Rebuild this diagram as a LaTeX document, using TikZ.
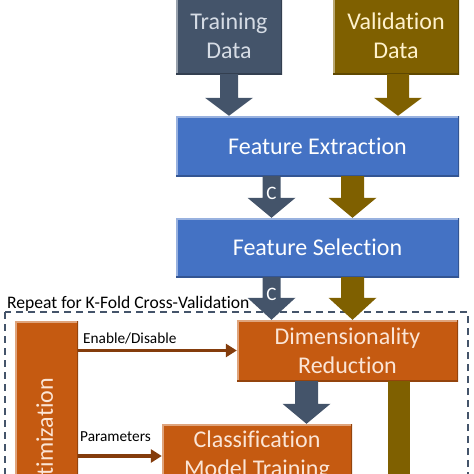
\documentclass[tikz,border=0pt]{standalone}
\usepackage{fontspec}
\setmainfont{Carlito}[RawFeature=-liga]
\usetikzlibrary{calc,arrows.meta}
\definecolor{tdcol}{HTML}{44546A}
\definecolor{tdtext}{HTML}{D6DCE5}
\definecolor{vdcol}{HTML}{7F6000}
\definecolor{vdtext}{HTML}{FFF2CC}
\definecolor{bluebox}{HTML}{4472C4}
\definecolor{orbox}{HTML}{C55A11}
\definecolor{ortext}{HTML}{FBE5D6}
\definecolor{brownarr}{HTML}{843C0C}
\newcommand{\bkarrow}[6]{%
  \fill[#1] ($(#2)+(-#4,0)$) -- ($(#2)+(#4,0)$) -- ($(#3)+(#4,#6)$) -- ($(#3)+(#5,#6)$) -- (#3) -- ($(#3)+(-#5,#6)$) -- ($(#3)+(-#4,#6)$) -- cycle;}
\tikzset{
  box/.style={rectangle, inner sep=0pt, align=center, font=\fontsize{24}{29}\selectfont},
  bevel/.style={path picture={
    \draw[line width=3pt, #1!55!white] (path picture bounding box.south west) -- (path picture bounding box.north west) -- (path picture bounding box.north east);
    \draw[line width=3pt, #1!75!black] (path picture bounding box.north east) -- (path picture bounding box.south east) -- (path picture bounding box.south west);
  }},
  lbl/.style={anchor=base west, inner sep=0pt, font=\fontsize{15.3}{15}\selectfont},
  ctrl/.style={draw=brownarr, line width=3.5pt, -{Triangle[length=11pt,width=13pt]}},
  clab/.style={inner sep=0pt, text=white, font=\fontsize{19}{19}\selectfont}
}
\begin{document}
\begin{tikzpicture}[x=1pt,y=1pt]
\useasboundingbox (0,0) rectangle (474,-474);
\clip (0,0) rectangle (474,-474);
% dashed loop region
\draw[tdcol, line width=1.5pt, dash pattern=on 7pt off 5pt] (5,-312) rectangle (468,-500);
\node[lbl, font=\fontsize{17.6}{17}\selectfont] (rep) at (7,-308) {Repeat for K-Fold Cross-Validation};
% boxes
\node[box, fill=tdcol, text=tdtext, bevel=tdcol, minimum width=106, minimum height=92] (trn) at (229,-28) {};
\node[box, text=tdtext] (trnt) at (229,-36) {Training\\Data};
\node[box, fill=vdcol, text=vdtext, bevel=vdcol, minimum width=126, minimum height=92] (val) at (396,-28) {};
\node[box, text=vdtext] (valt) at (396,-36) {Validation\\Data};
\node[box, fill=bluebox, text=white, bevel=bluebox, minimum width=283, minimum height=60] (fe) at (317.5,-146) {Feature Extraction};
\node[box, fill=bluebox, text=white, bevel=bluebox, minimum width=283, minimum height=59] (fs) at (317.5,-247.5) {Feature Selection};
\node[box, fill=orbox, text=ortext, bevel=orbox, minimum width=221, minimum height=61] (dr) at (347.5,-350.5) {Dimensionality\\Reduction};
\node[box, fill=orbox, text=ortext, bevel=orbox, minimum width=190, minimum height=64] (cmt) at (257,-456) {Classification\\Model Training};
\node[box, fill=orbox, text=ortext, bevel=orbox, rotate=90, minimum width=240, minimum height=63] (opt) at (46.5,-441) {Optimization};
% block arrows
\coordinate (t1) at (trn.south |- fe.north);
\bkarrow{tdcol}{trn.south}{t1}{9}{24}{18}
\coordinate (v0) at ($(val.south)+(2,0)$);
\coordinate (v1) at (v0 |- fe.north);
\bkarrow{vdcol}{v0}{v1}{11}{24}{18}
\coordinate (c0) at ($(fe.south)+(-46,0)$);
\coordinate (c1) at (c0 |- fs.north);
\bkarrow{tdcol}{c0}{c1}{9}{24}{20}
\node[clab] (cl1) at ($(c0)+(0,-17)$) {C};
\coordinate (g0) at ($(fe.south)+(35,0)$);
\coordinate (g1) at (g0 |- fs.north);
\bkarrow{vdcol}{g0}{g1}{11.5}{24}{20}
\coordinate (c2) at ($(fs.south)+(-46,0)$);
\coordinate (c3) at (c2 |- dr.north);
\bkarrow{tdcol}{c2}{c3}{9}{24}{22}
\node[clab] (cl2) at ($(c2)+(0,-17)$) {C};
\coordinate (g2) at ($(fs.south)+(35,0)$);
\coordinate (g3) at (g2 |- dr.north);
\bkarrow{vdcol}{g2}{g3}{11.5}{24}{22}
\coordinate (d0) at ($(dr.south)+(-41,0)$);
\coordinate (d1) at (d0 |- cmt.north);
\bkarrow{tdcol}{d0}{d1}{11.5}{24}{20}
\coordinate (gb) at ($(dr.south)+(51,0)$);
\fill[vdcol] ($(gb)+(-11,0)$) rectangle ($(gb)+(11,-130)$);
% control arrows
\draw[ctrl] (opt.south |- dr.west) -- (dr.west);
\draw[ctrl] (opt.south |- cmt.west) -- (cmt.west);
\node[lbl] (en) at (83,-343) {Enable/Disable};
\node[lbl] (par) at (80,-441) {Parameters};
\end{tikzpicture}
\end{document}
